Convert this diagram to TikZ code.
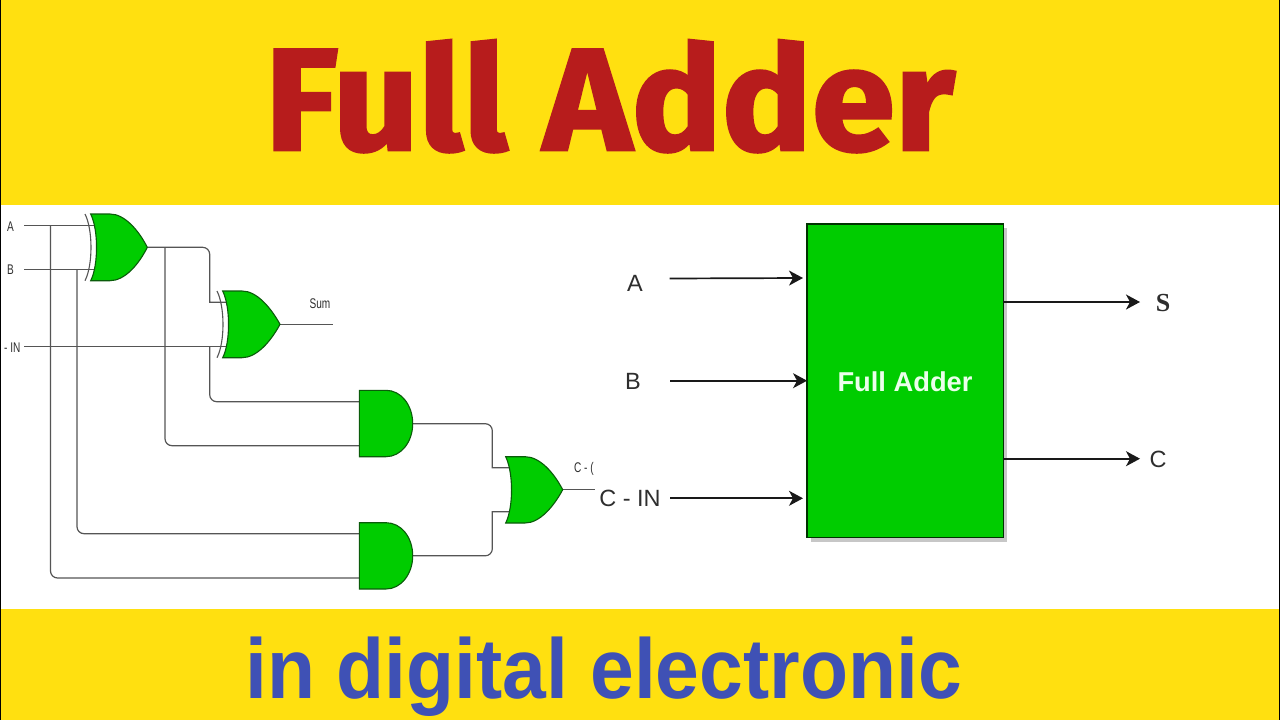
\documentclass[tikz,border=0pt]{standalone}
\usepackage{fontspec}
\setmainfont{Liberation Sans}
\newfontfamily\titlefont[BoldFeatures={FakeBold=1.8}]{Fira Sans}
\newfontfamily\serifbold{Liberation Serif}
\usetikzlibrary{arrows.meta}
\definecolor{bandyellow}{HTML}{FFE010}
\definecolor{titlered}{HTML}{B71C1C}
\definecolor{subblue}{HTML}{3F51B5}
\definecolor{gatefill}{HTML}{00CC00}
\definecolor{gateline}{HTML}{0A5C0A}
\definecolor{wiregrey}{HTML}{555555}
\definecolor{labelgrey}{HTML}{2E2E2E}
\tikzset{
  wire/.style={draw=wiregrey,line width=1.2pt,rounded corners=7pt},
  gatebody/.style={fill=gatefill,draw=gateline,line width=1.1pt},
  xorarc/.style={draw=wiregrey,line width=1.1pt},
  flow/.style={draw=black!90,line width=1.7pt,-{Stealth[length=14pt,width=15pt,inset=4pt]}},
  smalllabel/.style={font=\fontsize{14}{14}\selectfont,text=labelgrey,inner sep=0pt,xscale=.72},
  biglabel/.style={font=\fontsize{23.5}{23.5}\selectfont,text=labelgrey,inner sep=0pt},
}
\begin{document}
\begin{tikzpicture}[x=1pt,y=-1pt]
\useasboundingbox (0,0) rectangle (1280,720);
\fill[white] (0,0) rectangle (1280,720);
\fill[bandyellow] (0,0) rectangle (1280,205);
\fill[bandyellow] (0,609) rectangle (1280,720);
\fill[black] (0,0) rectangle (1.2,720);
\fill[black] (1278.8,0) rectangle (1280,720);
\node[inner sep=0pt,anchor=base,text=titlered,xscale=1.035,font=\titlefont\bfseries\fontsize{145}{145}\selectfont] (title) at (610,150) {Full Adder};
\node[inner sep=0pt,anchor=base,text=subblue,xscale=.925,font=\bfseries\fontsize{85}{85}\selectfont] (sub) at (603.5,698) {in digital electronic};
% pins
\coordinate (a0) at (24,225.5);
\coordinate (b0) at (24,269.5);
\coordinate (c0) at (24,346.5);
\coordinate (x1o) at (147.3,247.3);
\coordinate (x2o) at (280,324.3);
\coordinate (a1o) at (412.7,423.7);
\coordinate (a2o) at (412.7,555.8);
\coordinate (oo) at (562.7,489.7);
\coordinate (sumend) at (333,324.3);
\coordinate (coutend) at (595,489.7);
% wires
\draw[wire] (a0) -- (96,225.5);
\draw[wire] (b0) -- (96,269.5);
\draw[wire] (c0) -- (228,346.5);
\draw[wire] (50.5,225.5) -- (50.5,578) -- (365,578);
\draw[wire] (77,269.5) -- (77,533.7) -- (365,533.7);
\draw[wire] (165,247.3) -- (165,445.7) -- (365,445.7);
\draw[wire] (209.7,346.5) -- (209.7,401.7) -- (365,401.7);
\draw[wire] (x1o) -- (209.7,247.3) -- (209.7,290) [sharp corners] -- (209.7,302.3) -- (230,302.3);
\draw[wire] (x2o) -- (sumend);
\draw[wire] (a1o) -- (492.3,423.7) -- (492.3,450) [sharp corners] -- (492.3,467.7) -- (515,467.7);
\draw[wire] (a2o) -- (492.3,555.8) -- (492.3,530) [sharp corners] -- (492.3,511.7) -- (515,511.7);
\draw[wire] (oo) -- (coutend);
% gates
\draw[xorarc] (85,214) .. controls (93,230) and (93,265) .. (85,280.7);
\draw[gatebody] (90.7,214) -- (110,214) .. controls (125,214) and (139,231) .. (147.3,247.3) .. controls (139,264) and (125,280.7) .. (110,280.7) -- (90.7,280.7) .. controls (98.5,265) and (98.5,230) .. (90.7,214) -- cycle;
\draw[xorarc] (217,291) .. controls (225,307) and (225,342) .. (217,357.7);
\draw[gatebody] (222.7,291) -- (242,291) .. controls (257,291) and (271,308) .. (280,324.3) .. controls (271,341) and (257,357.7) .. (242,357.7) -- (222.7,357.7) .. controls (230.5,342) and (230.5,307) .. (222.7,291) -- cycle;
\draw[gatebody] (505.7,456.7) -- (525,456.7) .. controls (540,456.7) and (554,473) .. (562.7,489.7) .. controls (554,506) and (540,523) .. (525,523) -- (505.7,523) .. controls (513.5,507) and (513.5,473) .. (505.7,456.7) -- cycle;
\draw[gatebody] (359.3,390.3) -- (386,390.3) .. controls (401,390.3) and (412.7,405) .. (412.7,423.7) .. controls (412.7,442) and (401,456.7) .. (386,456.7) -- (359.3,456.7) -- cycle;
\draw[gatebody] (359.3,522.7) -- (386,522.7) .. controls (401,522.7) and (412.7,537) .. (412.7,555.8) .. controls (412.7,574) and (401,589) .. (386,589) -- (359.3,589) -- cycle;
% small labels
\node[smalllabel] (la) at (10.5,226.5) {A};
\node[smalllabel] (lb) at (10.5,270) {B};
\node[smalllabel,anchor=east] (lc) at (20.5,347.5) {- IN};
\node[smalllabel] (lsum) at (320,304) {Sum};
\node[smalllabel,anchor=west] (lcout) at (574,468.5) {C - (};
% block
\fill[black!22] (811,228) rectangle (1007,541.5);
\node[draw=black!80!green,line width=1.6pt,fill=gatefill,minimum width=196.3pt,minimum height=313.3pt,inner sep=0pt,outer sep=0pt] (fa) at (905.2,380.7) {};
\node[inner sep=0pt,text=white!92!green,font=\bfseries\fontsize{27.3}{27.3}\selectfont] (fat) at (905,382) {Full Adder};
% I/O
\node[biglabel] (ia) at (635,283.5) {A};
\node[biglabel] (ib) at (633,381) {B};
\node[biglabel] (ic) at (630,498) {C - IN};
\node[biglabel,font=\serifbold\bfseries\fontsize{26}{26}\selectfont] (os) at (1163,303) {S};
\node[biglabel] (oc) at (1158,459) {C};
\coordinate (ia1) at (669.5,278.5);
\coordinate (ib1) at (670,380.7);
\coordinate (ic1) at (670,498.3);
\draw[flow] (ia1) -- (803,278);
\draw[flow] (ib1) -- (fa.west|-ib1);
\draw[flow] (ic1) -- (803,498.3);
\draw[flow] (fa.east|-0,302) -- (1140,302);
\draw[flow] (fa.east|-0,458.7) -- (1140,458.7);
\end{tikzpicture}
\end{document}
